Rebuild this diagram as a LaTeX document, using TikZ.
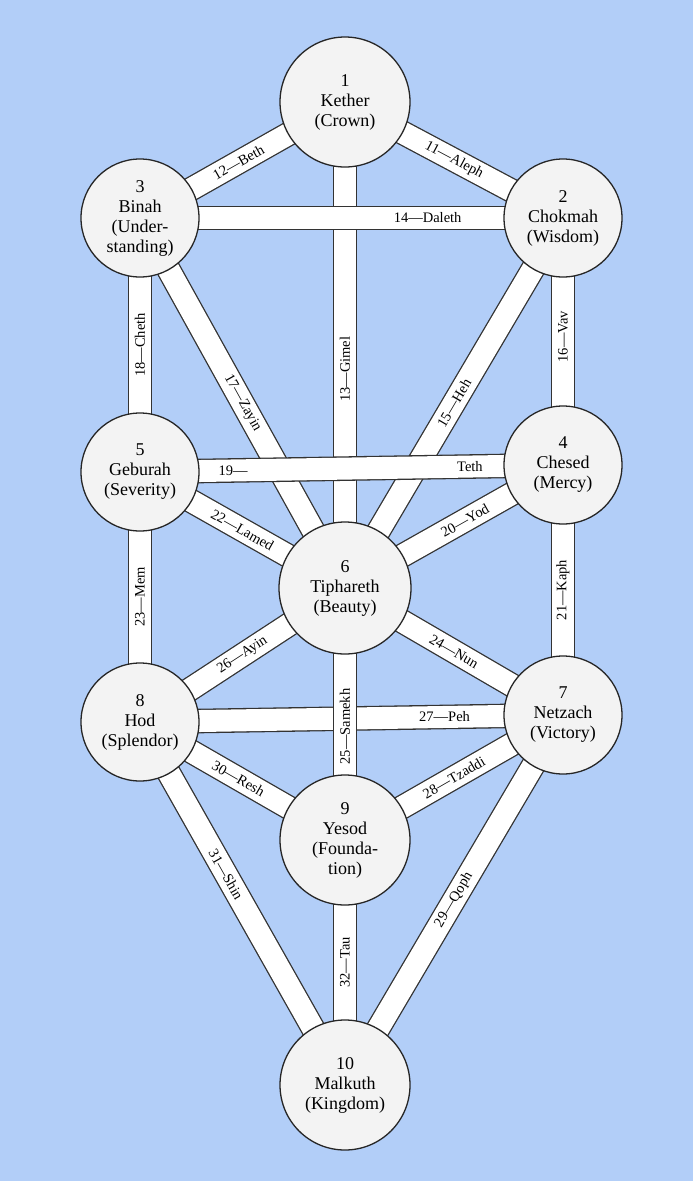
\documentclass[tikz,border=0pt]{standalone}
\usepackage{fontspec}
\setmainfont{Liberation Serif}
\definecolor{bg}{RGB}{178,206,248}
\definecolor{sfill}{RGB}{243,243,243}
\begin{document}
\begin{tikzpicture}[x=1pt,y=-1pt,
  band/.style={line width=1.3pt, draw=black!80, double=white, double distance=22pt},
  seph/.style={circle, draw=black!85, line width=1.3pt, fill=sfill, minimum size=#1, align=center, inner sep=0pt, font=\fontsize{18}{20}\selectfont},
  seph/.default=118pt,
  lab/.style={font=\fontsize{14.5}{15}\selectfont, inner sep=0pt}]
\fill[bg] (0,0) rectangle (693,1181);
\useasboundingbox (0,0) rectangle (693,1181);
\coordinate (c1) at (345,102);
\coordinate (c2) at (563,218);
\coordinate (c3) at (140,218);
\coordinate (c4) at (563,465);
\coordinate (c5) at (140,472);
\coordinate (c6) at (345,588);
\coordinate (c7) at (563,715);
\coordinate (c8) at (140,722);
\coordinate (c9) at (345,840);
\coordinate (c10) at (345,1085);
% paths
\draw[band] (c1) -- node[lab,pos=0.55,rotate=90]{13---Gimel} (c6);
\draw[band] (c3) -- node[lab,pos=0.5,rotate=-61]{17---Zayin} (c6);
\draw[band] (c6) -- node[lab,pos=0.5,rotate=59.5]{15---Heh} (c2);
\draw[band] (c5) -- node[lab,pos=0.22]{19---} node[lab,pos=0.78]{Teth} (c4);
\draw[band] (c1) -- node[lab,pos=0.5,rotate=-28]{11---Aleph} (c2);
\draw[band] (c3) -- node[lab,pos=0.48,rotate=29.5]{12---Beth} (c1);
\draw[band] (c3) -- node[lab,pos=0.68]{14---Daleth} (c2);
\draw[band] (c4) -- node[lab,pos=0.52,rotate=90]{16---Vav} (c2);
\draw[band] (c5) -- node[lab,pos=0.5,rotate=90]{18---Cheth} (c3);
\draw[band] (c6) -- node[lab,pos=0.55,rotate=29.4]{20---Yod} (c4);
\draw[band] (c7) -- node[lab,pos=0.5,rotate=90]{21---Kaph} (c4);
\draw[band] (c5) -- node[lab,pos=0.5,rotate=-29.5]{22---Lamed} (c6);
\draw[band] (c8) -- node[lab,pos=0.5,rotate=90]{23---Mem} (c5);
\draw[band] (c6) -- node[lab,pos=0.5,rotate=-30]{24---Nun} (c7);
\draw[band] (c8) -- node[lab,pos=0.5,rotate=33]{26---Ayin} (c6);
\draw[band] (c8) -- node[lab,pos=0.72]{27---Peh} (c7);
\draw[band] (c9) -- node[lab,pos=0.45,rotate=90]{25---Samekh} (c6);
\draw[band] (c9) -- node[lab,pos=0.5,rotate=30]{28---Tzaddi} (c7);
\draw[band] (c8) -- node[lab,pos=0.48,rotate=-30]{30---Resh} (c9);
\draw[band] (c10) -- node[lab,pos=0.5,rotate=59.5]{29---Qoph} (c7);
\draw[band] (c8) -- node[lab,pos=0.42,rotate=-60.5]{31---Shin} (c10);
\draw[band] (c10) -- node[lab,pos=0.5,rotate=90]{32---Tau} (c9);
% sephiroth
\node[seph=130pt] (s1) at (c1) {1\\Kether\\(Crown)};
\node[seph] (s2) at (c2) {2\\Chokmah\\(Wisdom)};
\node[seph] (s3) at (c3) {3\\Binah\\(Under-\\standing)};
\node[seph] (s4) at (c4) {4\\Chesed\\(Mercy)};
\node[seph] (s5) at (c5) {5\\Geburah\\(Severity)};
\node[seph=132pt] (s6) at (c6) {6\\Tiphareth\\(Beauty)};
\node[seph] (s7) at (c7) {7\\Netzach\\(Victory)};
\node[seph] (s8) at (c8) {8\\Hod\\(Splendor)};
\node[seph=130pt] (s9) at (c9) {9\\Yesod\\(Founda-\\tion)};
\node[seph=130pt] (s10) at (c10) {10\\Malkuth\\(Kingdom)};
\end{tikzpicture}
\end{document}
